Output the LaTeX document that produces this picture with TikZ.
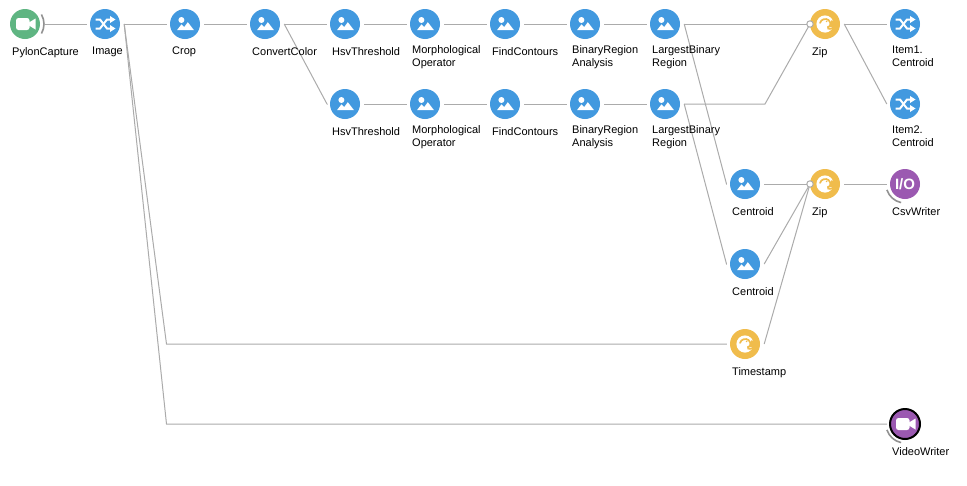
\documentclass[tikz,border=0pt]{standalone}
\usepackage{fontspec}
\setmainfont{Liberation Sans}
\definecolor{blueN}{HTML}{4299DF}
\definecolor{goldN}{HTML}{F0BC4C}
\definecolor{greenN}{HTML}{5FB582}
\definecolor{purpN}{HTML}{9B59B1}
\definecolor{linkC}{HTML}{ABABAB}
\tikzset{
  nodebase/.style={circle,minimum size=30pt,inner sep=0pt,draw=none},
  bluenode/.style={nodebase,fill=blueN},
  goldnode/.style={nodebase,fill=goldN},
  greennode/.style={nodebase,fill=greenN},
  purpnode/.style={nodebase,fill=purpN},
  lbl/.style={anchor=north west,inner sep=0pt,align=left,font=\fontsize{11}{13}\selectfont,text=black},
  link/.style={draw=linkC,line width=1pt},
  arcmark/.style={draw=linkC!85!black,line width=1.6pt},
  pics/imgicon/.style={code={
    \fill[white] (-3.6,-4) circle[radius=3pt];
    \fill[white] (-8,6.2) -- (-3.6,0.4) -- (-0.8,3) -- (2.8,-1.8) -- (9,6.2) -- cycle;
  }},
  pics/shuffleicon/.style={code={
    \draw[white,line width=2pt] (-9.5,-4.5) -- (-5,-4.5) -- (2,4.5) -- (6,4.5);
    \draw[white,line width=2pt] (-9.5,4.5) -- (-5,4.5) -- (2,-4.5) -- (6,-4.5);
    \fill[white] (5,-8) -- (10.5,-4.5) -- (5,-1) -- cycle;
    \fill[white] (5,1) -- (10.5,4.5) -- (5,8) -- cycle;
  }},
  pics/camicon/.style={code={
    \fill[white,rounded corners=2.5pt] (-9,-6) rectangle (4.5,6);
    \fill[white] (4,-1.5) -- (10.5,-5.5) -- (10.5,5.5) -- (4,1.5) -- cycle;
  }},
  pics/rxicon/.style={code={
    \fill[white] (0,0) circle[radius=8.6pt];
    \draw[goldN,line width=1.7pt,line cap=round] (-5,-1) .. controls (-4,-5) and (1,-6) .. (3.5,-4) .. controls (7,-1) and (5,3) .. (3,3) .. controls (2,6) and (7,5) .. (9,3);
    \fill[goldN] (6.5,-4) -- (10,-2) -- (9,3) -- (5,3) -- cycle;
    \fill[goldN] (1.6,-2.6) circle[radius=0.9pt];
  }},
}
\newcommand{\linkto}[2]{\draw[link] ([xshift=4pt]#1.east) -- ([xshift=-3pt]#2.west);}
\newcommand{\lblat}[3]{\node[lbl] (#1) at (#2) {#3};}
\begin{document}
\begin{tikzpicture}[x=1pt,y=-1pt]
\useasboundingbox (0,0) rectangle (967,485);
% nodes
\node[greennode] (cap) at (25,24) {};
\node[bluenode] (img) at (105,24) {};
\node[bluenode] (crop) at (185,24) {};
\node[bluenode] (conv) at (265,24) {};
\node[bluenode] (hsva) at (345,24) {};
\node[bluenode] (mora) at (425,24) {};
\node[bluenode] (fina) at (505,24) {};
\node[bluenode] (bina) at (585,24) {};
\node[bluenode] (laga) at (665,24) {};
\node[goldnode] (zipa) at (825,24) {};
\node[bluenode] (ita) at (905,24) {};
\node[bluenode] (hsvb) at (345,104) {};
\node[bluenode] (morb) at (425,104) {};
\node[bluenode] (finb) at (505,104) {};
\node[bluenode] (binb) at (585,104) {};
\node[bluenode] (lagb) at (665,104) {};
\node[bluenode] (itb) at (905,104) {};
\node[bluenode] (cena) at (745,184) {};
\node[goldnode] (zipb) at (825,184) {};
\node[purpnode] (csv) at (905,184) {};
\node[bluenode] (cenb) at (745,264) {};
\node[goldnode] (ts) at (745,344) {};
\node[purpnode,draw=black,line width=2pt,minimum size=30pt] (vid) at (905,424) {};
% icons
\foreach \n in {crop,conv,hsva,mora,fina,bina,laga,hsvb,morb,finb,binb,lagb,cena,cenb}
  \pic at (\n) {imgicon};
\foreach \n in {img,ita,itb}
  \pic at (\n) {shuffleicon};
\foreach \n in {cap,vid}
  \pic at (\n) {camicon};
\foreach \n in {zipa,zipb,ts}
  \pic at (\n) {rxicon};
\node[inner sep=0pt,text=white,font=\bfseries\fontsize{15}{15}\selectfont] at (csv) {I/O};
% output / input marks
\draw[arcmark] (cap.center) ++(-30:19pt) arc[start angle=-30,end angle=30,radius=19pt];
\foreach \n in {csv,vid}
  \draw[arcmark] (\n.center) ++(198:19pt) arc[start angle=198,end angle=258,radius=19pt];
% connectors
\draw[link] ([xshift=5pt]cap.east) -- ([xshift=-3pt]img.west);
\linkto{img}{crop}\linkto{crop}{conv}\linkto{conv}{hsva}\linkto{hsva}{mora}\linkto{mora}{fina}\linkto{fina}{bina}\linkto{bina}{laga}
\linkto{hsvb}{morb}\linkto{morb}{finb}\linkto{finb}{binb}\linkto{binb}{lagb}
\linkto{zipa}{ita}\linkto{zipb}{csv}
\coordinate (pa) at (810,24);
\coordinate (pb) at (810,184);
\draw[link] ([xshift=4pt]laga.east) -- (pa);
\draw[link] ([xshift=4pt]lagb.east) -- (765,104) -- (pa);
\draw[link] ([xshift=4pt]conv.east) -- (327,104) -- ([xshift=-3pt]hsvb.west);
\draw[link] ([xshift=4pt]laga.east) -- (726.5,184) -- ([xshift=-3pt]cena.west);
\draw[link] ([xshift=4pt]lagb.east) -- (726.5,264) -- ([xshift=-3pt]cenb.west);
\draw[link] ([xshift=4pt]img.east) -- (166.5,344) -- ([xshift=-3pt]ts.west);
\draw[link] ([xshift=4pt]img.east) -- (166.5,424) -- ([xshift=-2pt]vid.west);
\draw[link] ([xshift=4pt]zipa.east) -- ([xshift=-3pt]itb.west);
\draw[link] ([xshift=4pt]cena.east) -- (pb);
\draw[link] ([xshift=4pt]cenb.east) -- (pb);
\draw[link] ([xshift=4pt]ts.east) -- (pb);
\foreach \p in {pa,pb} \draw[draw=linkC,fill=white,line width=1pt] (\p) circle[radius=3.2pt];
% labels
\lblat{t1}{12,47}{PylonCapture}
\lblat{t2}{92,47}{Image}
\lblat{t3}{172,47}{Crop}
\lblat{t4}{252,47}{ConvertColor}
\lblat{t5}{332,47}{HsvThreshold}
\lblat{t6}{412,45.5}{Morphological\\Operator}
\lblat{t7}{492,47}{FindContours}
\lblat{t8}{572,45.5}{BinaryRegion\\Analysis}
\lblat{t9}{652,45.5}{LargestBinary\\Region}
\lblat{t10}{812,47}{Zip}
\lblat{t11}{892,45.5}{Item1.\\Centroid}
\lblat{t12}{332,127}{HsvThreshold}
\lblat{t13}{412,125.5}{Morphological\\Operator}
\lblat{t14}{492,127}{FindContours}
\lblat{t15}{572,125.5}{BinaryRegion\\Analysis}
\lblat{t16}{652,125.5}{LargestBinary\\Region}
\lblat{t17}{892,125.5}{Item2.\\Centroid}
\lblat{t18}{732,207}{Centroid}
\lblat{t19}{812,207}{Zip}
\lblat{t20}{892,207}{CsvWriter}
\lblat{t21}{732,287}{Centroid}
\lblat{t22}{732,367}{Timestamp}
\lblat{t23}{892,447}{VideoWriter}
\end{tikzpicture}
\end{document}
